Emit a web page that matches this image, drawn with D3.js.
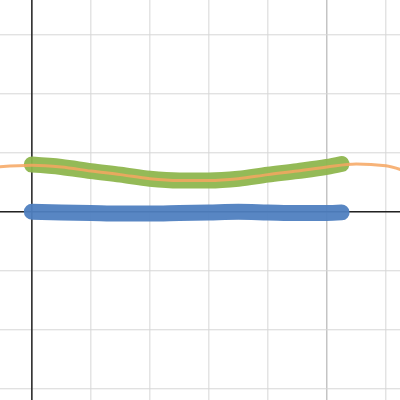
<!DOCTYPE html>
<html><head><meta charset="utf-8">
<script src="https://cdn.jsdelivr.net/npm/d3@7"></script>
<style>body{margin:0;background:#fff}</style>
</head><body>
<div id="chart"></div>
<script>
// data values
var greenX = [0, 0.5, 1, 1.5, 2, 2.5, 3, 3.5, 4, 4.5, 5, 5.25];
var greenY = [0.80, 0.76, 0.69, 0.63, 0.56, 0.53, 0.53, 0.56, 0.63, 0.69, 0.76, 0.81];
var blueX = [0, 0.5, 1, 1.5, 2, 2.5, 3, 3.5, 4, 4.5, 5, 5.25];
var blueY = [0, -0.01, -0.02, -0.03, -0.03, -0.02, -0.01, 0, -0.01, -0.02, -0.02, -0.01];
var orangeX = [-0.6, 0, 0.5, 1, 1.5, 2, 2.5, 3, 3.5, 4, 4.5, 5, 5.5, 6, 6.3];
var orangeY = [0.76, 0.79, 0.76, 0.69, 0.63, 0.56, 0.53, 0.53, 0.56, 0.63, 0.69, 0.76, 0.81, 0.78, 0.70];

var W = 400, H = 400;
var x = d3.scaleLinear().domain([-0.54, 6.24]).range([0, W]);
var y = d3.scaleLinear().domain([-3.19, 3.59]).range([H, 0]);

var svg = d3.select("#chart").append("svg").attr("width", W).attr("height", H);

// grid
svg.append("g").selectAll("line").data(d3.range(-1, 8)).enter().append("line")
  .attr("x1", function(d){ return x(d); }).attr("x2", function(d){ return x(d); })
  .attr("y1", 0).attr("y2", H)
  .attr("stroke", function(d){ return d == 5 ? "#a8a8a8" : "#d6d6d6"; }).attr("stroke-width", 1);
svg.append("g").selectAll("line").data(d3.range(-4, 5)).enter().append("line")
  .attr("y1", function(d){ return y(d); }).attr("y2", function(d){ return y(d); })
  .attr("x1", 0).attr("x2", W)
  .attr("stroke", "#d6d6d6").attr("stroke-width", 1);
// axes
svg.append("line").attr("x1", x(0)).attr("x2", x(0)).attr("y1", 0).attr("y2", H)
  .attr("stroke", "#222").attr("stroke-width", 1.5);
svg.append("line").attr("y1", y(0)).attr("y2", y(0)).attr("x1", 0).attr("x2", W)
  .attr("stroke", "#222").attr("stroke-width", 1.5);

var line = d3.line().curve(d3.curveMonotoneX)
  .x(function(d){ return x(d[0]); }).y(function(d){ return y(d[1]); });

svg.append("path").datum(d3.zip(blueX, blueY)).attr("d", line)
  .attr("fill", "none").attr("stroke", "#4f80c0").attr("stroke-width", 16)
  .attr("stroke-linecap", "round").attr("opacity", 0.95);
svg.append("path").datum(d3.zip(greenX, greenY)).attr("d", line)
  .attr("fill", "none").attr("stroke", "#8eb64e").attr("stroke-width", 16)
  .attr("stroke-linecap", "round").attr("opacity", 0.95);
svg.append("path").datum(d3.zip(orangeX, orangeY)).attr("d", line)
  .attr("fill", "none").attr("stroke", "#f6a660").attr("stroke-width", 3)
  .attr("opacity", 0.85);
</script>
</body></html>
